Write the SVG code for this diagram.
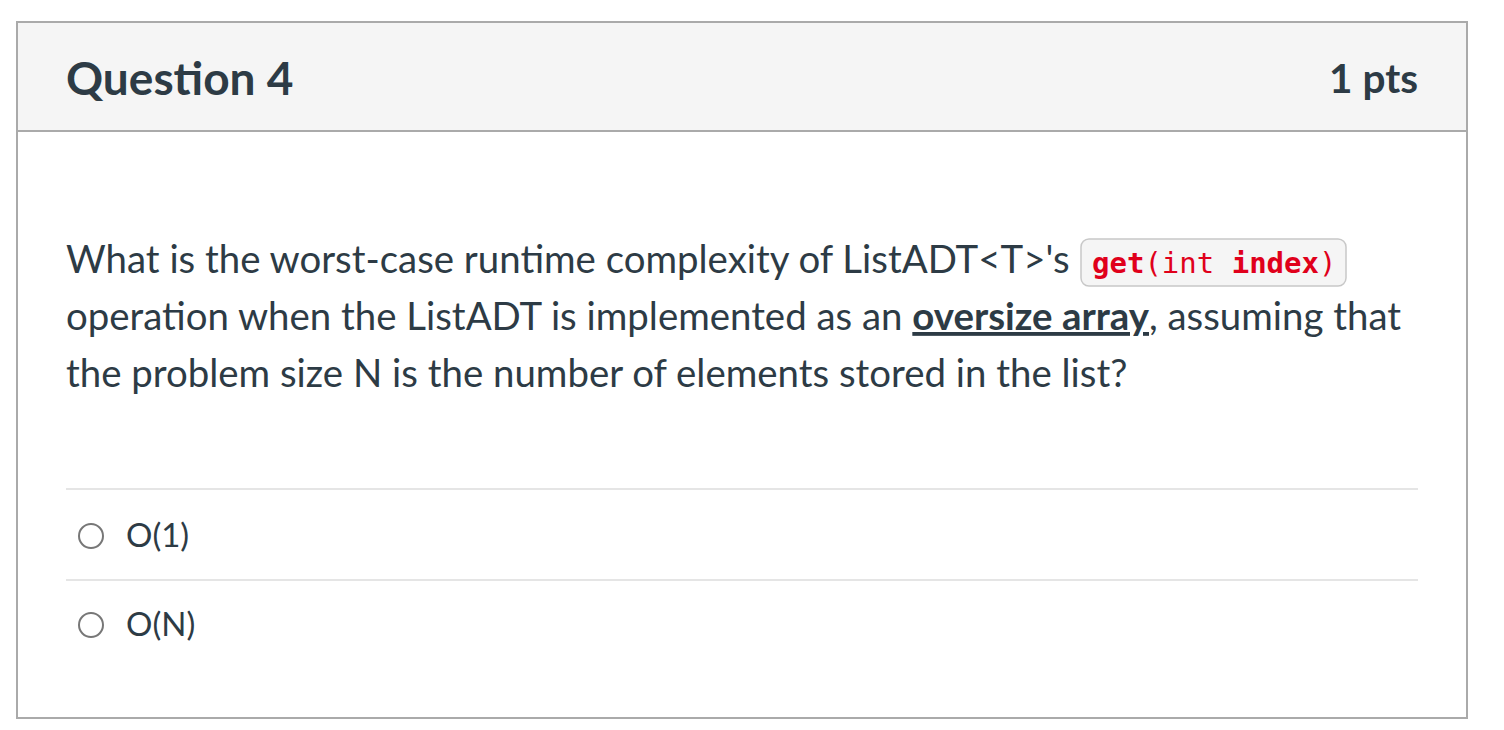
<svg xmlns="http://www.w3.org/2000/svg" width="1504" height="730" viewBox="0 0 1504 730">
<style>
.t{font-family:Lato,"Noto Sans",sans-serif;fill:#2d3b45}
.b{font-size:38.4px}
.m{font-family:"DejaVu Sans Mono","Liberation Mono",monospace;font-size:29px;fill:#e0001b}
.sep{stroke:#dcdcdc;stroke-width:1.5}
.r{fill:#fff;stroke:#777;stroke-width:2}
</style>
<rect x="0" y="0" width="1504" height="730" fill="#fff"/>
<rect x="17" y="22" width="1450" height="696" fill="#fff" stroke="#aaa" stroke-width="2"/>
<rect x="18" y="23" width="1448" height="108" fill="#f5f5f5"/>
<line x1="17" y1="131" x2="1467" y2="131" stroke="#aaa" stroke-width="2"/>
<text class="t" x="66" y="95" font-size="46" font-weight="bold">Question 4</text>
<text class="t" x="1418" y="93" font-size="40.5" font-weight="bold" text-anchor="end">1 pts</text>
<text class="t b" x="66" y="273">What is the worst-case runtime complexity of ListADT&lt;T&gt;'s</text>
<rect x="1081" y="239" width="265" height="47" rx="8" fill="#f5f5f5" stroke="#c8c8c8" stroke-width="1.5"/>
<text class="m" x="1092" y="273"><tspan font-weight="bold">get</tspan>(int <tspan font-weight="bold">index</tspan>)</text>
<text class="t b" x="66" y="330">operation when the ListADT is implemented as an <tspan font-weight="bold" text-decoration="underline">oversize array</tspan>, assuming that</text>
<text class="t b" x="66" y="387">the problem size N is the number of elements stored in the list?</text>
<line class="sep" x1="66" y1="489" x2="1418" y2="489"/>
<circle class="r" cx="91" cy="536" r="12"/>
<text class="t" x="126" y="547" font-size="33">O(1)</text>
<line class="sep" x1="66" y1="580" x2="1418" y2="580"/>
<circle class="r" cx="91" cy="625" r="12"/>
<text class="t" x="126" y="636" font-size="33">O(N)</text>
</svg>
